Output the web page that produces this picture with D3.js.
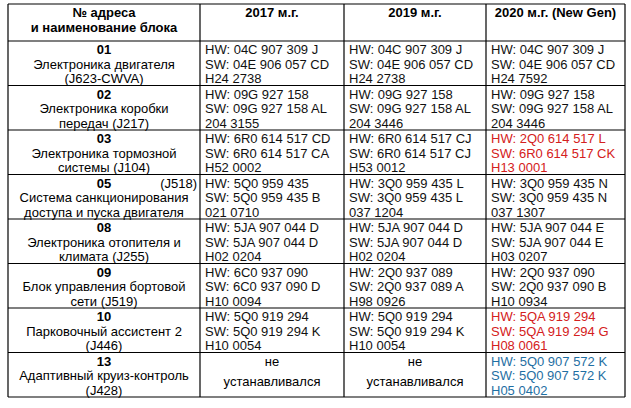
<!DOCTYPE html>
<html><head><meta charset="utf-8">
<script src="https://cdn.jsdelivr.net/npm/d3@7"></script>
<style>body{margin:0;background:#fff}text{font-family:"Liberation Sans",Arial,sans-serif;font-size:13px}</style>
</head><body>
<svg id="svg1" width="631" height="408"></svg>
<script>
var headers = ["2017 м.г.", "2019 м.г.", "2020 м.г. (New Gen)"];
var codes = ["01", "02", "03", "05", "08", "09", "10", "13"];
var names = [
  ["Электроника двигателя", "(J623-CWVA)"],
  ["Электроника коробки", "передач (J217)"],
  ["Электроника тормозной", "системы (J104)"],
  ["Система санкционирования", "доступа и пуска двигателя"],
  ["Электроника отопителя и", "климата (J255)"],
  ["Блок управления бортовой", "сети (J519)"],
  ["Парковочный ассистент 2", "(J446)"],
  ["Адаптивный круиз-контроль", "(J428)"]
];
var v2017 = [
  ["HW: 04C 907 309 J", "SW: 04E 906 057 CD", "H24 2738"],
  ["HW: 09G 927 158", "SW: 09G 927 158 AL", "204 3155"],
  ["HW: 6R0 614 517 CD", "SW: 6R0 614 517 CA", "H52 0002"],
  ["HW: 5Q0 959 435", "SW: 5Q0 959 435 B", "021 0710"],
  ["HW: 5JA 907 044 D", "SW: 5JA 907 044 D", "H02 0204"],
  ["HW: 6C0 937 090", "SW: 6C0 937 090 D", "H10 0094"],
  ["HW: 5Q0 919 294", "SW: 5Q0 919 294 K", "H10 0054"],
  null
];
var v2019 = [
  ["HW: 04C 907 309 J", "SW: 04E 906 057 CD", "H24 2738"],
  ["HW: 09G 927 158", "SW: 09G 927 158 AL", "204 3446"],
  ["HW: 6R0 614 517 CJ", "SW: 6R0 614 517 CJ", "H53 0012"],
  ["HW: 3Q0 959 435 L", "SW: 3Q0 959 435 L", "037 1204"],
  ["HW: 5JA 907 044 D", "SW: 5JA 907 044 D", "H02 0204"],
  ["HW: 2Q0 937 089", "SW: 2Q0 937 089 A", "H98 0926"],
  ["HW: 5Q0 919 294", "SW: 5Q0 919 294 K", "H10 0054"],
  null
];
var v2020 = [
  ["HW: 04C 907 309 J", "SW: 04E 906 057 CD", "H24 7592"],
  ["HW: 09G 927 158", "SW: 09G 927 158 AL", "204 3446"],
  ["HW: 2Q0 614 517 L", "SW: 6R0 614 517 CK", "H13 0001"],
  ["HW: 3Q0 959 435 N", "SW: 3Q0 959 435 N", "037 1307"],
  ["HW: 5JA 907 044 E", "SW: 5JA 907 044 E", "H03 0207"],
  ["HW: 2Q0 937 090", "SW: 2Q0 937 090 B", "H10 0934"],
  ["HW: 5QA 919 294", "SW: 5QA 919 294 G", "H08 0061"],
  ["HW: 5Q0 907 572 K", "SW: 5Q0 907 572 K", "H05 0402"]
];
var mark2020 = ["", "", "changed", "", "", "", "changed", "new"];
var notInstalled = ["не", "устанавливался"];

var colX = [8, 200, 344, 486, 625];
var rowY = d3.scaleLinear().domain([0, codes.length]).range([41, 397]);
var lineH = 14.6;
var colorOf = {"": "#111", changed: "#d42020", "new": "#1f6fa3"};

var svg = d3.select('#svg1');
var g = svg.append('g');

// header
g.append('text').attr('x', (colX[0]+colX[1])/2).attr('y', 17).attr('text-anchor','middle')
  .attr('font-weight','bold').text('№ адреса');
g.append('text').attr('x', (colX[0]+colX[1])/2).attr('y', 17+lineH).attr('text-anchor','middle')
  .attr('font-weight','bold').text('и наименование блока');
headers.forEach(function(h, i){
  g.append('text').attr('x', (colX[i+1]+colX[i+2])/2).attr('y', 17).attr('text-anchor','middle')
    .attr('font-weight','bold').text(h);
});

codes.forEach(function(c, r){
  var y0 = rowY(r) + 13;
  var cx = (colX[0]+colX[1])/2;
  g.append('text').attr('x', cx).attr('y', y0).attr('text-anchor','middle').attr('font-weight','bold').text(c);
  if (c === "05") {
    g.append('text').attr('x', colX[1]-3).attr('y', y0).attr('text-anchor','end').text('(J518)');
  }
  names[r].forEach(function(t, k){
    g.append('text').attr('x', cx).attr('y', y0+(k+1)*lineH).attr('text-anchor','middle').text(t);
  });
  [v2017[r], v2019[r], v2020[r]].forEach(function(v, ci){
    if (v === null) {
      notInstalled.forEach(function(t, k){
        g.append('text').attr('x', (colX[ci+1]+colX[ci+2])/2).attr('y', y0+k*lineH+(k?6:0))
          .attr('text-anchor','middle').text(t);
      });
    } else {
      v.forEach(function(t, k){
        g.append('text').attr('x', colX[ci+1]+5).attr('y', y0+k*lineH)
          .attr('fill', ci === 2 ? colorOf[mark2020[r]] : '#111').text(t);
      });
    }
  });
});

// grid
var ys = [4].concat(d3.range(codes.length+1).map(rowY));
ys.forEach(function(y){
  g.append('line').attr('x1', colX[0]).attr('x2', colX[4]).attr('y1', y).attr('y2', y)
    .attr('stroke','#000').attr('stroke-width',1.2);
});
colX.forEach(function(x){
  g.append('line').attr('x1', x).attr('x2', x).attr('y1', 4).attr('y2', rowY(codes.length))
    .attr('stroke','#000').attr('stroke-width',1.2);
});
</script>
</body></html>
